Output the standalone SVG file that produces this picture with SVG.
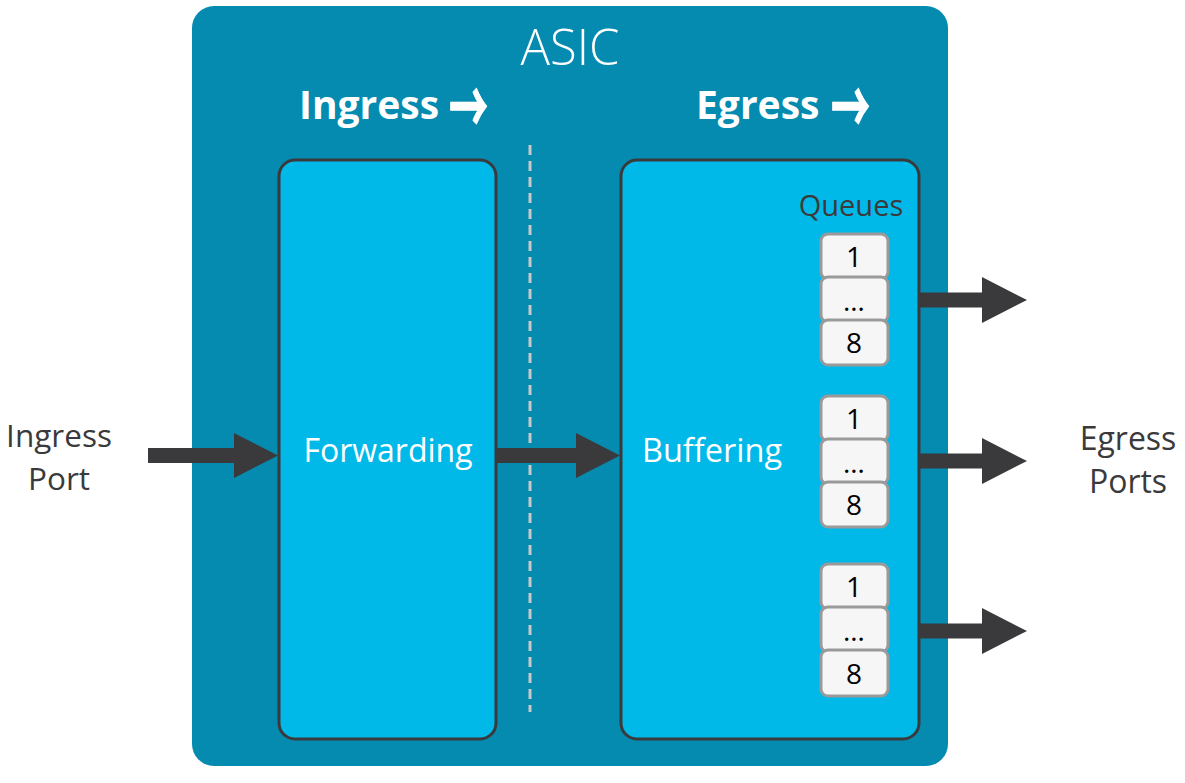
<svg xmlns="http://www.w3.org/2000/svg" width="1185" height="783" viewBox="0 0 1185 783">
<defs>
<style>
text{font-family:"Open Sans","Noto Sans","DejaVu Sans",sans-serif;}
.stage{fill:#00B9E8;stroke:#3a3a3c;stroke-width:3;}
.q{fill:#f6f6f6;stroke:#9a9a9a;stroke-width:3;}
.qt{font-size:28px;fill:#000;text-anchor:middle;}
.arrow{fill:#3a3a3c;}
.white{fill:#fff;}
.dark{fill:#3a3a3c;}
.head{font-size:39px;font-weight:bold;fill:#fff;}
.harrow{font-family:"Noto Sans CJK SC","Noto Sans CJK JP",sans-serif;font-size:46px;font-weight:bold;fill:#fff;stroke:#fff;stroke-width:0.8;}
</style>
</defs>
<rect width="1185" height="783" fill="#ffffff"/>
<g id="asic">
<rect x="192" y="6" width="756" height="760" rx="22" fill="#058BB0"/>
<text x="570" y="65" font-size="49" font-weight="300" class="white" text-anchor="middle">ASIC</text>
<text x="299" y="119" class="head">Ingress</text>
<text transform="translate(449,134) scale(0.85,1.6)" class="harrow">→</text>
<text x="696" y="119" class="head">Egress</text>
<text transform="translate(831,134) scale(0.85,1.6)" class="harrow">→</text>
<line x1="530" y1="145" x2="530" y2="712" stroke="#c8c8c8" stroke-width="3" stroke-dasharray="10,6"/>
</g>
<g id="forwarding">
<rect class="stage" x="279" y="160" width="217" height="579" rx="16"/>
<text x="388" y="462" font-size="32" class="white" text-anchor="middle">Forwarding</text>
</g>
<g id="buffering">
<rect class="stage" x="621" y="160" width="298" height="579" rx="16"/>
<text x="712" y="462" font-size="32.5" class="white" text-anchor="middle">Buffering</text>
<text x="851" y="216" font-size="29" class="dark" text-anchor="middle">Queues</text>
</g>
<g id="queue1">
<rect class="q" x="821" y="234" width="67" height="45" rx="7"/>
<text class="qt" x="854" y="267">1</text>
<rect class="q" x="821" y="277" width="67" height="45" rx="7"/>
<text class="qt" x="854" y="311">…</text>
<rect class="q" x="821" y="320" width="67" height="45" rx="7"/>
<text class="qt" x="854" y="353">8</text>
</g>
<g id="queue2">
<rect class="q" x="821" y="396" width="67" height="45" rx="7"/>
<text class="qt" x="854" y="429">1</text>
<rect class="q" x="821" y="439" width="67" height="45" rx="7"/>
<text class="qt" x="854" y="473">…</text>
<rect class="q" x="821" y="482" width="67" height="45" rx="7"/>
<text class="qt" x="854" y="515">8</text>
</g>
<g id="queue3">
<rect class="q" x="821" y="564" width="67" height="45" rx="7"/>
<text class="qt" x="854" y="597">1</text>
<rect class="q" x="821" y="607" width="67" height="45" rx="7"/>
<text class="qt" x="854" y="641">…</text>
<rect class="q" x="821" y="650" width="67" height="46" rx="7"/>
<text class="qt" x="854" y="684">8</text>
</g>
<g id="ingress-port">
<text x="59" y="447" font-size="31.5" class="dark" text-anchor="middle">Ingress</text>
<text x="59" y="490" font-size="31.5" class="dark" text-anchor="middle">Port</text>
</g>
<g id="egress-ports">
<text x="1128" y="450" font-size="32" class="dark" text-anchor="middle">Egress</text>
<text x="1128" y="493" font-size="32" class="dark" text-anchor="middle">Ports</text>
</g>
<g id="connectors">
<polygon class="arrow" points="148,448 234,448 234,433 278,455.5 234,478 234,463 148,463"/>
<polygon class="arrow" points="497,448 576,448 576,433 620,455.5 576,478 576,463 497,463"/>
<polygon class="arrow" points="919,292.5 982,292.5 982,277 1027,300 982,323 982,307.5 919,307.5"/>
<polygon class="arrow" points="919,453.5 982,453.5 982,438 1027,461 982,484 982,468.5 919,468.5"/>
<polygon class="arrow" points="919,623.5 982,623.5 982,608 1027,631 982,654 982,638.5 919,638.5"/>
</g>
</svg>
